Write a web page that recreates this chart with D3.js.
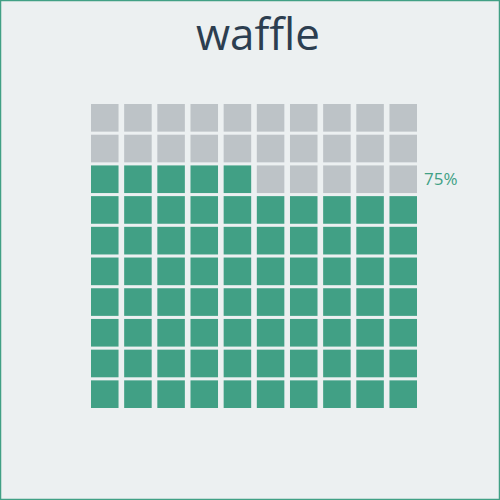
<!DOCTYPE html>
<html><head><meta charset="utf-8">
<script src="https://cdn.jsdelivr.net/npm/d3@7"></script>
<style>body{margin:0;background:#ecf0f1}</style></head>
<body><script>
const title = ["waffle"];
const percent = [75];
const cols = d3.range(10);
const rows = d3.range(10);

const svg = d3.select("body").append("svg").attr("width",500).attr("height",500);
svg.append("rect").attr("x",0.5).attr("y",0.5).attr("width",499).attr("height",499)
  .attr("fill","#ecf0f1").attr("stroke","#41a085").attr("stroke-width",1.5);
svg.append("text").attr("x",258).attr("y",50).attr("text-anchor","middle")
  .attr("font-family","Open Sans, sans-serif").attr("font-size",44).attr("fill","#2c3e50").text(title[0]);

const x = d3.scaleBand().domain(cols).range([91,417]).paddingInner(0.17);
const y = d3.scaleBand().domain(rows).range([104,408]).paddingInner(0.1);
const cells = d3.range(100).map(i=>({i, row:Math.floor(i/10), col:i%10}));
// filled cells counted from bottom-left upward
svg.selectAll("rect.c").data(cells).join("rect").attr("class","c")
  .attr("x",d=>x(d.col)).attr("y",d=>y(d.row)).attr("width",x.bandwidth()).attr("height",y.bandwidth())
  .attr("fill",d=>{const k=(9-d.row)*10+d.col; return k<percent[0]?"#41a085":"#bdc3c7";});
const labelRow = 9-Math.floor((percent[0]-1)/10);
svg.append("text").attr("x",424).attr("y",y(labelRow)+y.bandwidth()/2+6)
  .attr("font-family","Open Sans, sans-serif").attr("font-size",17).attr("fill","#41a085").text(percent[0]+"%");
</script></body></html>
